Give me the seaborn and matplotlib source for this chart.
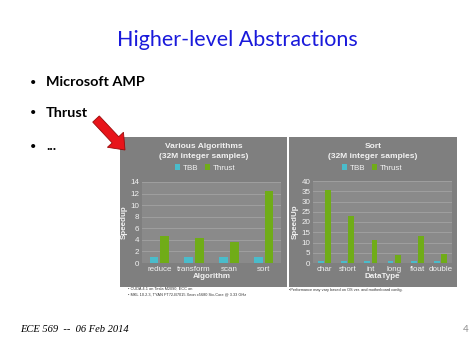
import matplotlib
matplotlib.use("Agg")
import matplotlib.pyplot as plt
import seaborn as sns
import pandas as pd
from matplotlib.patches import Rectangle, FancyArrow

# ---- data ----
series = ["TBB", "Thrust"]
algorithms = ["reduce", "transform", "scan", "sort"]
algo_tbb = [1.0, 1.0, 1.0, 1.0]
algo_thrust = [4.6, 4.3, 3.6, 12.5]

dtypes = ["char", "short", "int", "long", "float", "double"]
sort_tbb = [1.0, 1.0, 1.0, 1.0, 1.0, 1.0]
sort_thrust = [35.5, 23.0, 11.0, 4.0, 13.3, 4.5]

bullets = ["Microsoft AMP", "Thrust", "..."]

df_algo = pd.DataFrame({
    "Algorithm": algorithms * 2,
    "Speedup": algo_tbb + algo_thrust,
    "Series": [series[0]] * len(algorithms) + [series[1]] * len(algorithms),
})
df_sort = pd.DataFrame({
    "DataType": dtypes * 2,
    "SpeedUp": sort_tbb + sort_thrust,
    "Series": [series[0]] * len(dtypes) + [series[1]] * len(dtypes),
})

W, H = 474, 355
fig = plt.figure(figsize=(W / 100, H / 100), dpi=100)
fig.patch.set_facecolor("white")

# background axes in pixel coordinates
bg = fig.add_axes([0, 0, 1, 1], zorder=0)
bg.set_xlim(0, W)
bg.set_ylim(H, 0)
bg.axis("off")

PANEL = "#7f7f7f"
PLOT = "#8a8a8a"
TXT = "#f2f2f2"
palette = {"TBB": "#35cde0", "Thrust": "#74c400"}

# panels
bg.add_patch(Rectangle((120, 137), 167, 150, facecolor=PANEL, edgecolor="none"))
bg.add_patch(Rectangle((289, 137), 168, 150, facecolor=PANEL, edgecolor="none"))

# slide title
bg.text(237, 40, "Higher-level Abstractions", color="#1a1adb", fontsize=15.5,
        family="Lato", ha="center", va="center")

# bullets
for y, t in zip([82, 113, 146], bullets):
    bg.text(30, y, "•", fontsize=8, ha="left", va="center", color="black", family="Lato")
    bg.text(46, y, t, fontsize=10.4, ha="left", va="center", color="black",
            family="Lato", fontweight="bold")

# red arrow
bg.add_patch(FancyArrow(96, 119, 29, 31, width=9, head_width=22, head_length=14,
                        length_includes_head=True, facecolor="#e8141a",
                        edgecolor="#9a0a0a", linewidth=0.6, zorder=3))

# chart titles
for cx, t1 in [(203.5, "Various Algorithms"), (373, "Sort")]:
    bg.text(cx, 146, t1, color=TXT, fontsize=6, fontweight="bold",
            family="Liberation Sans", ha="center", va="center")
    bg.text(cx, 157, "(32M integer samples)", color=TXT, fontsize=6,
            fontweight="bold", family="Liberation Sans", ha="center", va="center")

# footnotes
bg.text(128, 289, "• CUDA 4.1 on Tesla M2090, ECC on", fontsize=2.8, color="#333333",
        family="Liberation Sans", ha="left", va="center")
bg.text(128, 294, "• MKL 10.2.3, TYAN FT72-B7015 Xeon x5680 Six-Core @ 3.33 GHz",
        fontsize=2.8, color="#333333", family="Liberation Sans", ha="left", va="center")
bg.text(289, 290, "•Performance may vary based on OS ver. and motherboard config.",
        fontsize=2.8, color="#333333", family="Liberation Sans", ha="left", va="center")

# footer
bg.text(20, 330, "ECE 569  --  06 Feb 2014", fontsize=7.6, style="italic",
        family="Liberation Serif", ha="left", va="center", color="black")
bg.text(466, 330, "4", fontsize=7, family="Lato", ha="center", va="center",
        color="#8c8c8c")


def pix_axes(x0, y0, x1, y1):
    return fig.add_axes([x0 / W, 1 - y1 / H, (x1 - x0) / W, (y1 - y0) / H], zorder=1)


def style(ax, ylim, step, ylabel, xlabel, legend_x):
    ax.set_facecolor(PLOT)
    ax.set_ylim(0, ylim)
    ax.set_yticks(range(0, ylim + 1, step))
    ax.grid(axis="y", color="#a3a3a3", linewidth=0.6)
    ax.set_axisbelow(True)
    for s in ax.spines.values():
        s.set_visible(False)
    ax.tick_params(length=0, labelsize=5.8, labelcolor=TXT, pad=2)
    for lab in ax.get_xticklabels() + ax.get_yticklabels():
        lab.set_family("Liberation Sans")
    ax.set_ylabel(ylabel, color=TXT, fontsize=5.8, fontweight="bold",
                  family="Liberation Sans", labelpad=2)
    ax.set_xlabel(xlabel, color=TXT, fontsize=5.8, fontweight="bold",
                  family="Liberation Sans", labelpad=0.5)
    sns.move_legend(ax, "center", bbox_to_anchor=(legend_x / W, 1 - 168 / H),
                    bbox_transform=fig.transFigure, ncol=2, frameon=False,
                    title=None, fontsize=5.8, handlelength=0.7, handleheight=0.7,
                    columnspacing=0.8, handletextpad=0.3)
    for t in ax.get_legend().get_texts():
        t.set_color(TXT)
        t.set_family("Liberation Sans")


ax1 = pix_axes(142, 182, 281, 263)
sns.barplot(data=df_algo, x="Algorithm", y="Speedup", hue="Series", palette=palette,
            width=0.62, gap=0.2, ax=ax1, edgecolor="none")
style(ax1, 14, 2, "Speedup", "Algorithm", 205)

ax2 = pix_axes(313, 181, 452, 263)
sns.barplot(data=df_sort, x="DataType", y="SpeedUp", hue="Series", palette=palette,
            width=0.62, gap=0.2, ax=ax2, edgecolor="none")
style(ax2, 40, 5, "SpeedUp", "DataType", 372)

fig.savefig("out.png", dpi=100, facecolor="white")
